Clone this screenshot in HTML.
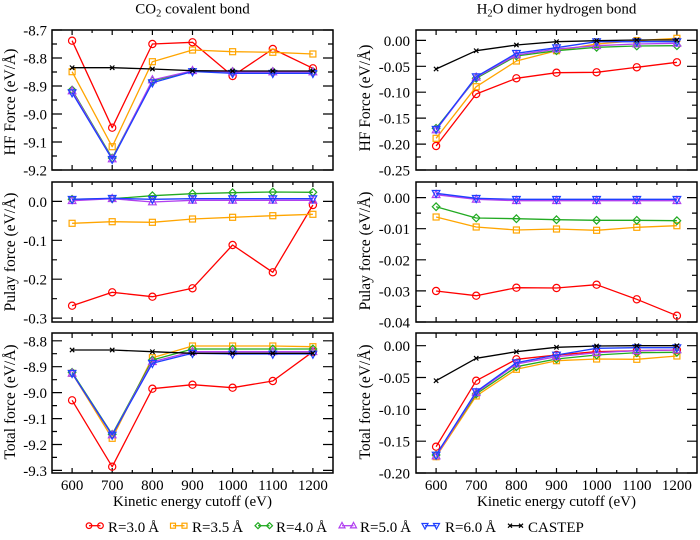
<!DOCTYPE html>
<html><head><meta charset="utf-8"><style>
html,body{margin:0;padding:0;background:#fff;}
svg{display:block;}
text{font-family:"Liberation Serif","Times New Roman",serif;fill:#000;}
.tl{font-size:15px;text-anchor:end;}
.tx{font-size:15px;text-anchor:middle;}
.al{font-size:15.5px;text-anchor:middle;}
.lg{font-size:15px;}
.fr{fill:none;stroke:#000;stroke-width:1.5;}
.tk{fill:none;stroke:#000;stroke-width:1.2;}
.s{fill:none;stroke-width:1.3;stroke-linejoin:round;}
.r{stroke:#ff0000;marker-start:url(#mr);marker-mid:url(#mr);marker-end:url(#mr);}
.o{stroke:#ffa500;marker-start:url(#mo);marker-mid:url(#mo);marker-end:url(#mo);}
.g{stroke:#22aa22;marker-start:url(#mg);marker-mid:url(#mg);marker-end:url(#mg);}
.p{stroke:#b040f0;marker-start:url(#mp);marker-mid:url(#mp);marker-end:url(#mp);}
.b{stroke:#1f3fff;marker-start:url(#mb);marker-mid:url(#mb);marker-end:url(#mb);}
.k{stroke:#000;marker-start:url(#mk);marker-mid:url(#mk);marker-end:url(#mk);}
.lr{stroke:#ff0000;marker-start:url(#lr);marker-end:url(#lr);}
.lo{stroke:#ffa500;marker-start:url(#lo);marker-end:url(#lo);}
.lgn{stroke:#22aa22;marker-start:url(#lgm);marker-end:url(#lgm);}
.lp{stroke:#b040f0;marker-start:url(#lp);marker-end:url(#lp);}
.lb{stroke:#1f3fff;marker-start:url(#lb);marker-end:url(#lb);}
.lk{stroke:#000;marker-start:url(#lk);marker-end:url(#lk);}
</style></head><body>
<svg width="700" height="540" viewBox="0 0 700 540" xmlns="http://www.w3.org/2000/svg">
<defs>
<marker id="mr" markerUnits="userSpaceOnUse" viewBox="-6 -6 12 12" markerWidth="12" markerHeight="12" refX="0" refY="0"><circle r="3.6" fill="none" stroke="#ff0000" stroke-width="1.2"/></marker>
<marker id="mo" markerUnits="userSpaceOnUse" viewBox="-6 -6 12 12" markerWidth="12" markerHeight="12" refX="0" refY="0"><rect x="-3" y="-3" width="6" height="6" fill="none" stroke="#ffa500" stroke-width="1.2"/></marker>
<marker id="mg" markerUnits="userSpaceOnUse" viewBox="-6 -6 12 12" markerWidth="12" markerHeight="12" refX="0" refY="0"><path d="M0,-3.8L3.8,0L0,3.8L-3.8,0Z" fill="none" stroke="#22aa22" stroke-width="1.2"/></marker>
<marker id="mp" markerUnits="userSpaceOnUse" viewBox="-6 -6 12 12" markerWidth="12" markerHeight="12" refX="0" refY="0"><path d="M0,-4.2L3.8,2.8L-3.8,2.8Z" fill="none" stroke="#b040f0" stroke-width="1.2"/></marker>
<marker id="mb" markerUnits="userSpaceOnUse" viewBox="-6 -6 12 12" markerWidth="12" markerHeight="12" refX="0" refY="0"><path d="M0,4.2L3.8,-2.8L-3.8,-2.8Z" fill="none" stroke="#1f3fff" stroke-width="1.2"/></marker>
<marker id="mk" markerUnits="userSpaceOnUse" viewBox="-6 -6 12 12" markerWidth="12" markerHeight="12" refX="0" refY="0"><path d="M-2.2,-2.2L2.2,2.2M-2.2,2.2L2.2,-2.2" fill="none" stroke="#000" stroke-width="1.2"/></marker>
<marker id="lr" markerUnits="userSpaceOnUse" viewBox="-6 -6 12 12" markerWidth="12" markerHeight="12" refX="0" refY="0"><circle r="2.8" fill="none" stroke="#ff0000" stroke-width="1.2"/></marker>
<marker id="lo" markerUnits="userSpaceOnUse" viewBox="-6 -6 12 12" markerWidth="12" markerHeight="12" refX="0" refY="0"><rect x="-2.5" y="-2.5" width="5" height="5" fill="none" stroke="#ffa500" stroke-width="1.2"/></marker>
<marker id="lgm" markerUnits="userSpaceOnUse" viewBox="-6 -6 12 12" markerWidth="12" markerHeight="12" refX="0" refY="0"><path d="M0,-3L3,0L0,3L-3,0Z" fill="none" stroke="#22aa22" stroke-width="1.2"/></marker>
<marker id="lp" markerUnits="userSpaceOnUse" viewBox="-6 -6 12 12" markerWidth="12" markerHeight="12" refX="0" refY="0"><path d="M0,-3.3L3,2.2L-3,2.2Z" fill="none" stroke="#b040f0" stroke-width="1.2"/></marker>
<marker id="lb" markerUnits="userSpaceOnUse" viewBox="-6 -6 12 12" markerWidth="12" markerHeight="12" refX="0" refY="0"><path d="M0,3.3L3,-2.2L-3,-2.2Z" fill="none" stroke="#1f3fff" stroke-width="1.2"/></marker>
<marker id="lk" markerUnits="userSpaceOnUse" viewBox="-6 -6 12 12" markerWidth="12" markerHeight="12" refX="0" refY="0"><path d="M-2,-2L2,2M-2,2L2,-2" fill="none" stroke="#000" stroke-width="1.2"/></marker>
<g id="xtk"><path class="tk" d="M20.1,0v5M60.2,0v5M100.4,0v5M140.5,0v5M180.6,0v5M220.8,0v5M260.9,0v5M20.1,140v-5M60.2,140v-5M100.4,140v-5M140.5,140v-5M180.6,140v-5M220.8,140v-5M260.9,140v-5M40.1,0v3M80.3,0v3M120.4,0v3M160.6,0v3M200.7,0v3M240.9,0v3M40.1,140v-3M80.3,140v-3M120.4,140v-3M160.6,140v-3M200.7,140v-3M240.9,140v-3"/></g>
</defs>
<rect width="700" height="540" fill="#fff"/>

<!-- Titles -->
<text x="192.5" y="13.5" class="tx">CO<tspan font-size="10.5" dy="3">2</tspan><tspan dy="-3"> covalent bond</tspan></text>
<text x="556.5" y="13.5" class="tx">H<tspan font-size="10.5" dy="3">2</tspan><tspan dy="-3">O dimer hydrogen bond</tspan></text>

<!-- Y axis labels -->
<text class="al" transform="translate(15,102) rotate(-90)">HF Force (eV/Å)</text>
<text class="al" transform="translate(15,252) rotate(-90)">Pulay force (eV/Å)</text>
<text class="al" transform="translate(15,402) rotate(-90)">Total force (eV/Å)</text>
<text class="al" transform="translate(370,98) rotate(-90)">HF Force (eV/Å)</text>
<text class="al" transform="translate(370,251) rotate(-90)">Pulay force (eV/Å)</text>
<text class="al" transform="translate(370,402) rotate(-90)">Total force (eV/Å)</text>

<!-- ===== Left panel 1: HF CO2 ===== -->
<g transform="translate(52,30)">
<use href="#xtk"/>
<path class="tk" d="M0,0h10M0,28h10M0,56h10M0,84h10M0,112h10M0,140h10M0,14h5M0,42h5M0,70h5M0,98h5M0,126h5M281,0h-10M281,28h-10M281,56h-10M281,84h-10M281,112h-10M281,140h-10M281,14h-5M281,42h-5M281,70h-5M281,98h-5M281,126h-5"/>
<polyline class="s r" points="20.1,10.7 60.2,97.7 100.4,14 140.5,12.3 180.6,46 220.8,19 260.9,38.3"/>
<polyline class="s o" points="20.1,41.7 60.2,116.7 100.4,31.7 140.5,20 180.6,21.7 220.8,22.3 260.9,24"/>
<polyline class="s g" points="20.1,60 60.2,128 100.4,51 140.5,41 180.6,41.5 220.8,41.5 260.9,41.5"/>
<polyline class="s p" points="20.1,61 60.2,129 100.4,50 140.5,40.7 180.6,42 220.8,42 260.9,42"/>
<polyline class="s b" points="20.1,62.7 60.2,129.3 100.4,52.7 140.5,41.5 180.6,43.3 220.8,43.3 260.9,43.3"/>
<polyline class="s k" points="20.1,37.7 60.2,37.7 100.4,39 140.5,40.7 180.6,41 220.8,41 260.9,41"/>
<rect class="fr" x="0" y="0" width="281" height="140"/>
<text class="tl" x="-5" y="5.5">-8.7</text>
<text class="tl" x="-5" y="33.5">-8.8</text>
<text class="tl" x="-5" y="61.5">-8.9</text>
<text class="tl" x="-5" y="89.5">-9.0</text>
<text class="tl" x="-5" y="117.5">-9.1</text>
<text class="tl" x="-5" y="145.5">-9.2</text>
</g>

<!-- ===== Left panel 2: Pulay CO2 ===== -->
<g transform="translate(52,182)">
<use href="#xtk"/>
<path class="tk" d="M0,19.4h10M0,58.3h10M0,97.2h10M0,136.1h10M0,38.9h5M0,77.8h5M0,116.7h5M281,19.4h-10M281,58.3h-10M281,97.2h-10M281,136.1h-10M281,38.9h-5M281,77.8h-5M281,116.7h-5"/>
<polyline class="s r" points="20.1,123.7 60.2,110.3 100.4,114.7 140.5,106.3 180.6,63 220.8,90.3 260.9,23"/>
<polyline class="s o" points="20.1,41.3 60.2,39.7 100.4,40.3 140.5,37 180.6,35.3 220.8,33.7 260.9,32.3"/>
<polyline class="s g" points="20.1,17.3 60.2,16.7 100.4,13.7 140.5,11.7 180.6,10.7 220.8,10 260.9,10.3"/>
<polyline class="s p" points="20.1,18.7 60.2,16.7 100.4,20 140.5,18.3 180.6,18.3 220.8,18.3 260.9,18.3"/>
<polyline class="s b" points="20.1,17.3 60.2,16.3 100.4,17.3 140.5,16.7 180.6,16.7 220.8,16.7 260.9,16.7"/>
<rect class="fr" x="0" y="0" width="281" height="140"/>
<text class="tl" x="-5" y="24.9">0.0</text>
<text class="tl" x="-5" y="63.8">-0.1</text>
<text class="tl" x="-5" y="102.7">-0.2</text>
<text class="tl" x="-5" y="141.6">-0.3</text>
</g>

<!-- ===== Left panel 3: Total CO2 ===== -->
<g transform="translate(52,333)">
<use href="#xtk"/>
<path class="tk" d="M0,7.8h10M0,33.7h10M0,59.6h10M0,85.6h10M0,111.5h10M0,137.4h10M0,20.7h5M0,46.7h5M0,72.6h5M0,98.5h5M0,124.4h5M281,7.8h-10M281,33.7h-10M281,59.6h-10M281,85.6h-10M281,111.5h-10M281,137.4h-10M281,20.7h-5M281,46.7h-5M281,72.6h-5M281,98.5h-5M281,124.4h-5"/>
<polyline class="s r" points="20.1,67.3 60.2,133.7 100.4,55.7 140.5,51.7 180.6,54.7 220.8,48 260.9,18.7"/>
<polyline class="s o" points="20.1,40.3 60.2,105.3 100.4,24.7 140.5,13 180.6,13 220.8,13 260.9,13.7"/>
<polyline class="s g" points="20.1,39.3 60.2,101.3 100.4,27 140.5,16 180.6,16 220.8,16 260.9,16"/>
<polyline class="s p" points="20.1,40.3 60.2,102 100.4,28.7 140.5,18.7 180.6,18.7 220.8,18.7 260.9,18.7"/>
<polyline class="s b" points="20.1,40.3 60.2,102 100.4,30.3 140.5,20.3 180.6,21 220.8,21 260.9,21"/>
<polyline class="s k" points="20.1,17 60.2,17 100.4,18.7 140.5,20.3 180.6,20.3 220.8,20.3 260.9,20.3"/>
<rect class="fr" x="0" y="0" width="281" height="140"/>
<text class="tl" x="-5" y="13.3">-8.8</text>
<text class="tl" x="-5" y="39.2">-8.9</text>
<text class="tl" x="-5" y="65.1">-9.0</text>
<text class="tl" x="-5" y="91.1">-9.1</text>
<text class="tl" x="-5" y="117">-9.2</text>
<text class="tl" x="-5" y="142.9">-9.3</text>
<text class="tx" x="20.1" y="157">600</text>
<text class="tx" x="60.2" y="157">700</text>
<text class="tx" x="100.4" y="157">800</text>
<text class="tx" x="140.5" y="157">900</text>
<text class="tx" x="180.6" y="157">1000</text>
<text class="tx" x="220.8" y="157">1100</text>
<text class="tx" x="260.9" y="157">1200</text>
<text class="tx" x="140.5" y="173">Kinetic energy cutoff (eV)</text>
</g>

<!-- ===== Right panel 1: HF H2O ===== -->
<g transform="translate(416,30)">
<use href="#xtk"/>
<path class="tk" d="M0,10.4h10M0,36.3h10M0,62.2h10M0,88.1h10M0,114.1h10M0,140h10M0,23.3h5M0,49.3h5M0,75.2h5M0,101.1h5M0,127h5M281,10.4h-10M281,36.3h-10M281,62.2h-10M281,88.1h-10M281,114.1h-10M281,140h-10M281,23.3h-5M281,49.3h-5M281,75.2h-5M281,101.1h-5M281,127h-5"/>
<polyline class="s r" points="20.1,116 60.2,64 100.4,48.3 140.5,42.7 180.6,42.3 220.8,37.3 260.9,32.3"/>
<polyline class="s o" points="20.1,108.3 60.2,56.7 100.4,31 140.5,20.7 180.6,14 220.8,10.7 260.9,8.3"/>
<polyline class="s g" points="20.1,98.3 60.2,48.3 100.4,26 140.5,20.7 180.6,17.3 220.8,16 260.9,15.7"/>
<polyline class="s p" points="20.1,100 60.2,47.3 100.4,25 140.5,19 180.6,15.7 220.8,14 260.9,13.3"/>
<polyline class="s b" points="20.1,99.3 60.2,46.7 100.4,23.3 140.5,17.7 180.6,11.7 220.8,11.7 260.9,11.7"/>
<polyline class="s k" points="20.1,39 60.2,20.7 100.4,15 140.5,11.7 180.6,10.7 220.8,10 260.9,10"/>
<rect class="fr" x="0" y="0" width="281" height="140"/>
<text class="tl" x="-6" y="15.9">0.00</text>
<text class="tl" x="-6" y="41.8">-0.05</text>
<text class="tl" x="-6" y="67.7">-0.10</text>
<text class="tl" x="-6" y="93.6">-0.15</text>
<text class="tl" x="-6" y="119.6">-0.20</text>
<text class="tl" x="-6" y="145.5">-0.25</text>
</g>

<!-- ===== Right panel 2: Pulay H2O ===== -->
<g transform="translate(416,182)">
<use href="#xtk"/>
<path class="tk" d="M0,15.6h10M0,46.7h10M0,77.8h10M0,108.9h10M0,140h10M0,31.1h5M0,62.2h5M0,93.3h5M0,124.4h5M281,15.6h-10M281,46.7h-10M281,77.8h-10M281,108.9h-10M281,140h-10M281,31.1h-5M281,62.2h-5M281,93.3h-5M281,124.4h-5"/>
<polyline class="s r" points="20.1,109 60.2,113.7 100.4,105.7 140.5,106 180.6,102.7 220.8,117.3 260.9,133.7"/>
<polyline class="s o" points="20.1,35 60.2,45 100.4,48 140.5,47 180.6,48.3 220.8,45.3 260.9,43.7"/>
<polyline class="s g" points="20.1,24.7 60.2,36 100.4,36.7 140.5,37.7 180.6,38.3 220.8,38.3 260.9,38.7"/>
<polyline class="s p" points="20.1,12.7 60.2,17.3 100.4,18.7 140.5,18.7 180.6,18.7 220.8,18.7 260.9,18.7"/>
<polyline class="s b" points="20.1,11.3 60.2,16.3 100.4,17.3 140.5,17.3 180.6,17.3 220.8,17.3 260.9,17.3"/>
<rect class="fr" x="0" y="0" width="281" height="140"/>
<text class="tl" x="-6" y="21.1">0.00</text>
<text class="tl" x="-6" y="52.2">-0.01</text>
<text class="tl" x="-6" y="83.3">-0.02</text>
<text class="tl" x="-6" y="114.4">-0.03</text>
<text class="tl" x="-6" y="145.5">-0.04</text>
</g>

<!-- ===== Right panel 3: Total H2O ===== -->
<g transform="translate(416,333)">
<use href="#xtk"/>
<path class="tk" d="M0,12.7h10M0,44.5h10M0,76.4h10M0,108.2h10M0,140h10M0,28.6h5M0,60.5h5M0,92.3h5M0,124.1h5M281,12.7h-10M281,44.5h-10M281,76.4h-10M281,108.2h-10M281,140h-10M281,28.6h-5M281,60.5h-5M281,92.3h-5M281,124.1h-5"/>
<polyline class="s r" points="20.1,113.7 60.2,47.7 100.4,26.3 140.5,22 180.6,18.7 220.8,17.7 260.9,17"/>
<polyline class="s o" points="20.1,123.7 60.2,63 100.4,36.3 140.5,27.7 180.6,26 220.8,26.3 260.9,23"/>
<polyline class="s g" points="20.1,122 60.2,61 100.4,33.7 140.5,26 180.6,22 220.8,19.7 260.9,19.3"/>
<polyline class="s p" points="20.1,123 60.2,59.7 100.4,31 140.5,23.7 180.6,19.7 220.8,17.7 260.9,17"/>
<polyline class="s b" points="20.1,122 60.2,58.7 100.4,29.7 140.5,22 180.6,15.3 220.8,14.7 260.9,14.7"/>
<polyline class="s k" points="20.1,47.7 60.2,25.3 100.4,18.7 140.5,14.3 180.6,13 220.8,12.7 260.9,12.7"/>
<rect class="fr" x="0" y="0" width="281" height="140"/>
<text class="tl" x="-6" y="18.2">0.00</text>
<text class="tl" x="-6" y="50">-0.05</text>
<text class="tl" x="-6" y="81.9">-0.10</text>
<text class="tl" x="-6" y="113.7">-0.15</text>
<text class="tl" x="-6" y="145.5">-0.20</text>
<text class="tx" x="20.1" y="157">600</text>
<text class="tx" x="60.2" y="157">700</text>
<text class="tx" x="100.4" y="157">800</text>
<text class="tx" x="140.5" y="157">900</text>
<text class="tx" x="180.6" y="157">1000</text>
<text class="tx" x="220.8" y="157">1100</text>
<text class="tx" x="260.9" y="157">1200</text>
<text class="tx" x="140.5" y="173">Kinetic energy cutoff (eV)</text>
</g>

<!-- ===== Legend ===== -->
<polyline class="s lr" points="89,525.7 100.5,525.7"/>
<text class="lg" x="108" y="532">R=3.0&#8201;Å</text>
<polyline class="s lo" points="173,525.7 184.5,525.7"/>
<text class="lg" x="192" y="532">R=3.5&#8201;Å</text>
<polyline class="s lgn" points="258,525.7 269.5,525.7"/>
<text class="lg" x="276" y="532">R=4.0&#8201;Å</text>
<polyline class="s lp" points="342,525.7 353.5,525.7"/>
<text class="lg" x="360" y="532">R=5.0&#8201;Å</text>
<polyline class="s lb" points="425,525.7 436.5,525.7"/>
<text class="lg" x="445" y="532">R=6.0&#8201;Å</text>
<polyline class="s lk" points="510,525.7 521,525.7"/>
<text class="lg" x="528" y="532">CASTEP</text>
</svg>
</body></html>
